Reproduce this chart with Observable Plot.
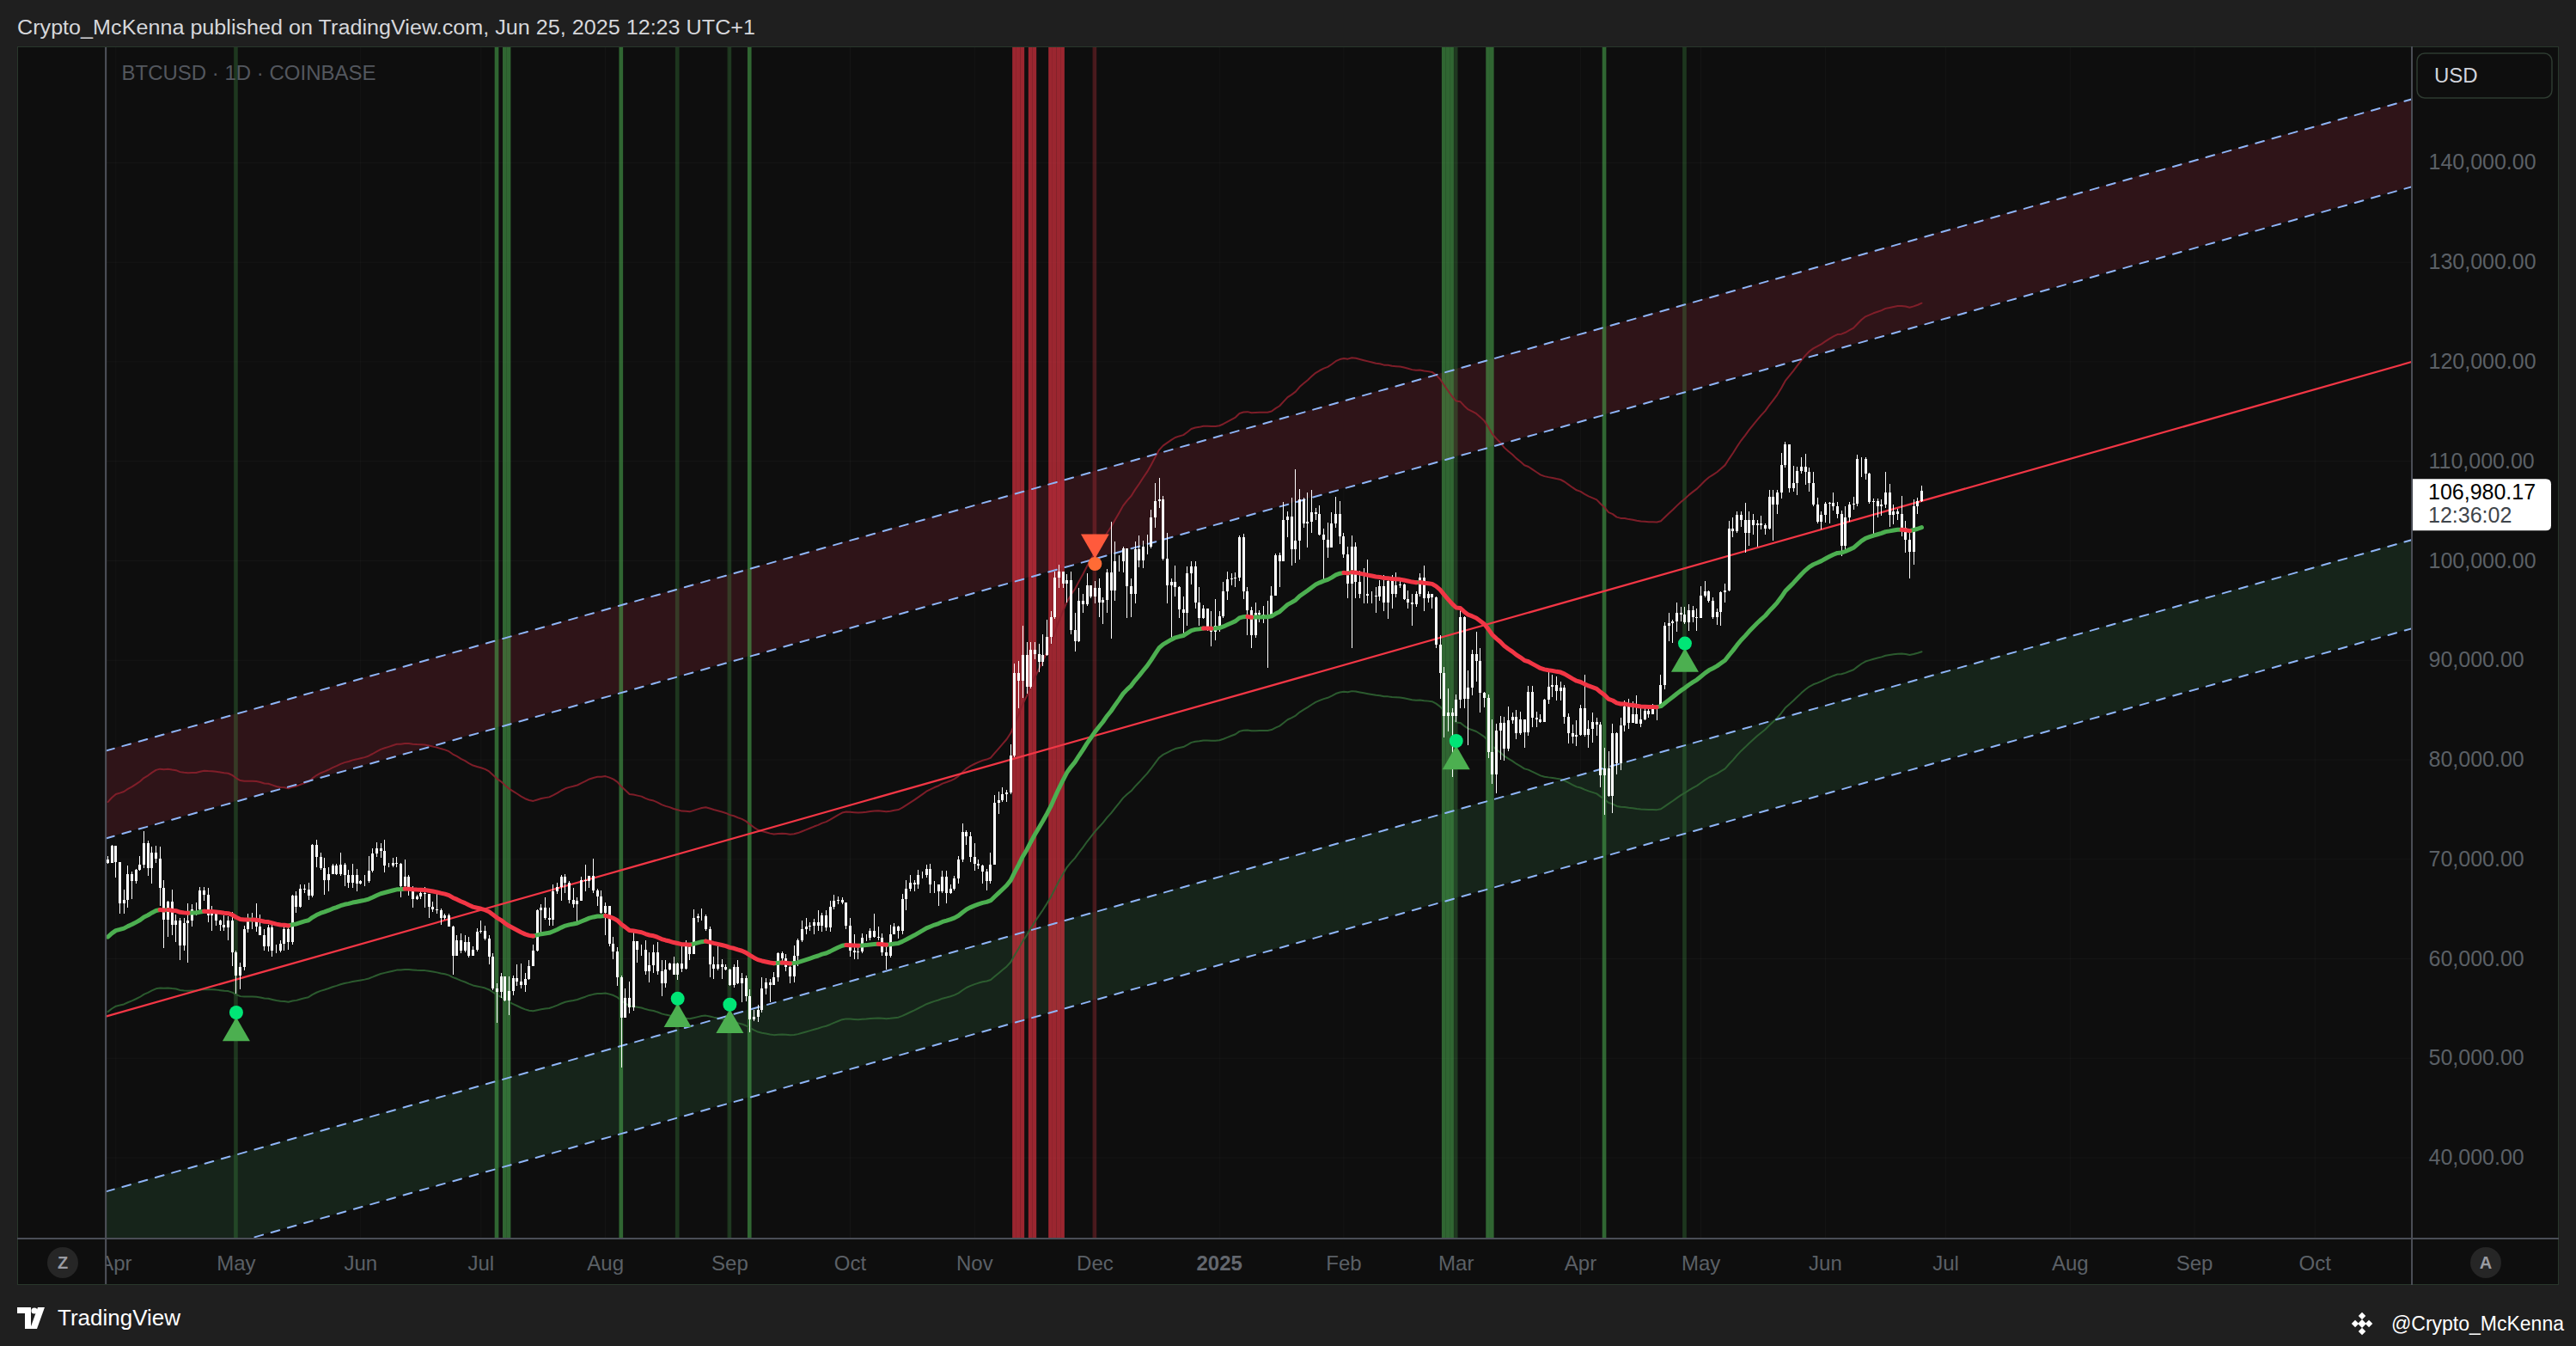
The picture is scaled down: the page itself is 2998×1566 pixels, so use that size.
<!DOCTYPE html>
<html>
<head>
<meta charset="utf-8">
<script src="https://cdn.jsdelivr.net/npm/d3@7"></script>
<script src="https://cdn.jsdelivr.net/npm/@observablehq/plot@0.6"></script>
<style>
html,body{margin:0;padding:0;background:#1f1f1f;width:2998px;height:1566px;overflow:hidden;font-family:"Liberation Sans",Arial,sans-serif;}
#wrap{position:relative;width:2998px;height:1566px;}
#chart{position:absolute;left:20px;top:54px;width:2958px;height:1441px;}
</style>
</head>
<body>
<div id="wrap"><div id="chart"></div></div>
<script>
// ---------- DATA (prices in thousands of USD, daily BTCUSD, Coinbase) ----------
const firstDay = "2024-03-30";
const firstOpen = 69.9;
const closes = [
// Mar 30-31 2024
69.6,71.3,
// Apr
69.7,65.5,65.9,68.5,67.8,68.9,69.4,71.6,69.1,70.6, 70.0,67.1,63.9,65.7,63.4,63.8,61.3,63.5,63.8,64.9, 64.9,66.8,66.4,64.3,64.5,63.8,63.4,63.1,63.8,60.6,
// May
58.3,59.1,62.9,63.9,64.0,63.2,62.3,61.2,63.1,60.8, 60.8,61.5,62.9,61.6,66.3,65.2,67.0,66.9,66.3,71.4, 70.2,69.1,67.9,68.5,69.3,68.5,69.4,68.4,67.6,68.4, 67.5,
// Jun
67.8,67.8,68.8,70.5,71.1,70.8,69.3,69.3,69.6,69.5, 67.3,68.2,66.8,66.0,66.2,66.6,66.5,65.2,64.9,64.8, 64.1,64.3,63.2,60.3,61.8,60.8,61.6,60.3,60.9,62.7,
// Jul
62.8,62.0,60.2,57.0,56.6,58.2,55.8,56.7,58.0,57.7, 57.3,57.9,59.2,60.8,64.8,65.1,64.1,63.9,66.7,67.2, 68.2,67.6,65.9,65.4,65.8,67.9,67.8,68.3,66.8,66.2, 64.6,
// Aug
65.3,61.5,60.7,58.1,54.0,56.0,55.1,61.7,60.9,60.9, 58.7,59.3,60.6,58.7,57.5,58.9,59.5,58.4,59.5,59.0, 61.2,60.4,64.1,64.2,64.2,62.9,59.4,59.0,59.4,59.1, 58.9,
// Sep
57.3,59.1,57.5,58.0,56.2,53.9,54.1,54.8,57.0,57.6, 57.3,58.1,60.5,60.0,59.1,58.2,60.3,61.8,62.9,63.2, 63.3,63.6,63.3,64.3,63.1,65.2,65.8,65.9,65.6,63.3,
// Oct
60.8,60.6,60.7,62.1,62.1,62.8,62.2,62.1,60.6,60.3, 62.4,63.2,62.8,66.0,67.0,67.6,67.4,68.4,68.4,69.0, 67.4,67.4,66.7,68.2,66.6,67.0,68.0,69.9,72.7,72.3, 70.2,
// Nov
69.5,69.3,68.7,67.8,69.4,75.6,75.9,76.5,76.7,80.4, 88.7,87.9,90.5,87.3,91.0,90.6,89.8,90.5,92.3,94.3, 98.3,98.9,97.7,98.0,93.0,91.9,95.9,95.6,97.5,96.4,
// Dec
97.2,95.8,96.0,98.8,97.0,99.9,99.9,101.2,97.4,96.6, 101.1,100.0,101.4,101.4,104.3,106.0,106.1,100.2,97.5,97.8, 97.3,95.1,94.7,98.7,99.4,95.8,94.2,95.2,93.1,92.8, 93.4,
// Jan 2025
94.4,96.9,98.1,98.2,98.3,102.3,96.9,95.0,92.5,94.7, 94.6,94.5,94.5,96.5,100.5,99.9,104.1,104.4,101.1,102.0, 106.1,103.7,103.9,104.8,104.7,102.6,102.1,101.3,103.7,104.7, 102.4,
// Feb
100.6,97.7,101.4,97.8,96.6,96.6,96.5,96.5,96.4,97.4, 95.8,97.9,96.6,97.5,97.6,96.1,95.8,95.6,96.6,98.3, 96.2,96.6,96.3,91.5,88.7,84.4,84.7,84.4,
// Mar
86.0,94.3,86.1,87.2,90.6,89.9,86.7,86.2,80.7,78.5, 82.9,83.7,81.1,83.9,84.3,82.6,84.0,82.7,86.8,84.2, 84.0,83.8,86.0,87.3,87.5,86.9,87.2,84.3,82.6,82.3, 82.5,
// Apr
85.1,82.5,83.1,83.8,83.5,78.4,79.1,76.3,82.6,79.6, 83.4,85.3,83.7,84.5,83.6,84.0,84.9,84.5,85.1,85.2, 87.5,93.4,93.7,93.9,94.7,94.6,93.8,95.0,94.3,94.2,
// May
96.5,96.9,95.9,94.3,94.8,96.8,97.0,103.2,102.9,104.6, 104.1,102.8,104.1,103.5,103.7,103.5,103.2,106.4,105.6,106.8, 109.6,111.7,107.3,107.8,109.0,109.4,108.9,107.8,105.6,103.9, 104.6,
// Jun 1-25
105.7,105.8,105.4,104.7,101.5,104.3,105.6,105.7,110.2,110.2, 108.7,105.9,106.0,105.4,105.6,106.8,104.6,104.9,104.7,103.3, 102.1,100.9,105.4,106.0,106.98
];
const highs = [
70.3,71.4,
71.3,69.7,66.9,69.3,68.7,69.0,70.3,72.8,71.8,71.2, 71.3,71.2,67.9,65.8,66.9,64.4,64.1,64.1,65.5,65.4, 65.6,67.2,67.2,67.1,65.3,64.8,63.9,64.3,64.2,64.7,
60.8,59.6,63.3,64.5,64.6,65.5,64.4,62.9,63.4,63.5, 61.4,61.8,63.4,63.1,66.4,66.7,67.4,67.4,67.6,71.5, 71.9,70.6,70.1,69.2,69.5,69.5,70.6,69.6,68.9,69.5, 69.0,
67.9,68.4,70.3,71.1,71.7,71.6,71.9,69.6,70.1,70.2, 69.6,69.9,68.4,67.3,66.4,66.9,67.2,66.5,65.7,66.5, 65.0,64.5,64.5,63.3,62.3,62.5,62.3,62.2,61.2,63.0,
63.8,63.3,62.3,60.5,57.5,58.5,58.2,58.2,58.3,59.4, 59.5,58.5,59.8,61.4,64.9,65.4,66.1,65.1,67.4,67.6, 68.4,68.5,67.8,67.1,66.1,68.2,69.4,68.3,70.0,67.0, 66.8,
65.6,65.0,62.2,61.1,58.3,57.0,57.7,62.7,61.7,61.4, 61.8,60.6,61.4,61.6,59.8,59.8,59.6,60.2,59.6,61.4, 61.8,61.4,64.9,64.5,65.0,64.4,63.2,60.2,61.2,59.9, 59.4,
59.0,59.4,59.8,58.5,58.3,56.9,54.8,55.3,58.1,58.0, 57.9,58.6,60.6,60.7,60.4,59.2,61.3,62.0,63.8,64.1, 63.6,64.0,64.8,64.6,64.8,65.8,66.4,66.2,66.1,65.6,
64.1,62.4,61.5,62.5,62.4,63.0,64.5,63.2,62.5,61.3, 63.4,63.5,63.3,66.5,67.9,68.4,67.9,68.9,68.7,69.4, 69.5,67.8,67.4,68.8,68.8,67.4,68.3,70.3,73.6,72.9, 72.7,
71.6,69.9,69.4,69.0,70.6,76.4,76.8,77.2,76.9,81.5, 89.6,89.9,93.4,91.8,91.8,91.8,91.6,92.6,94.0,94.9, 98.9,99.6,98.8,98.6,98.9,94.7,97.2,96.6,98.7,97.5,
97.9,98.2,96.3,99.1,103.9,101.9,100.5,101.4,101.2,98.2, 101.9,102.5,102.0,102.6,105.1,107.8,108.3,106.5,102.8,98.2, 99.5,97.4,96.4,99.4,99.9,99.9,97.3,95.5,95.2,94.9, 96.1,
94.9,97.8,98.9,98.7,98.8,102.5,102.7,97.3,95.3,95.8, 95.0,95.4,95.9,97.4,100.7,100.8,105.9,104.9,106.3,109.2, 107.2,106.3,106.8,107.1,105.3,105.5,103.2,103.8,104.8,106.4, 106.0,
102.8,101.4,102.5,101.8,99.0,99.2,100.1,96.9,97.3,98.0, 98.5,98.1,98.5,98.8,97.9,97.7,97.0,96.6,96.9,98.7, 99.5,96.9,96.5,96.4,92.5,89.3,87.1,85.1,
86.5,95.0,94.4,88.9,91.0,92.8,91.2,86.8,86.5,84.0, 83.6,84.4,84.3,85.3,84.7,85.0,84.8,84.0,87.4,87.4, 84.8,84.5,86.1,88.8,88.5,88.3,87.8,87.5,84.6,83.5, 83.9,
85.5,88.5,83.9,84.7,84.2,83.8,81.2,80.8,83.6,82.7, 84.2,85.9,86.1,85.8,86.4,85.5,85.5,85.1,85.6,85.3, 88.5,93.8,94.7,94.0,95.8,95.3,95.3,95.6,95.4,95.2,
97.4,97.9,97.0,96.3,95.2,96.9,97.7,104.0,104.3,104.9, 104.9,105.8,104.9,104.7,104.1,104.5,103.7,107.1,107.1,107.1, 110.8,111.9,111.3,109.5,109.4,110.4,110.7,109.3,108.9,106.3, 104.9,
105.9,105.9,106.8,105.9,105.0,105.4,105.9,106.4,110.6,110.4, 110.4,108.8,106.2,106.2,106.1,108.9,107.7,105.6,105.2,106.5, 104.0,103.0,106.1,106.3,107.5
];
const lows = [
69.5,69.6,
68.1,64.5,64.5,65.1,66.0,67.5,68.8,69.1,68.3,67.5, 69.6,65.3,61.0,62.2,62.3,61.6,59.8,60.8,59.6,63.2, 64.3,64.5,65.8,63.6,62.8,63.3,62.8,62.8,61.8,59.2,
56.5,56.9,58.8,62.6,62.9,62.7,62.3,60.8,60.7,60.2, 60.5,60.6,60.8,60.9,61.4,64.6,65.1,66.6,65.9,66.1, 69.2,68.9,66.4,66.7,68.5,68.4,68.3,67.3,67.1,67.1, 66.7,
67.4,67.3,67.6,68.6,70.2,70.1,68.6,69.2,69.2,69.2, 66.1,66.9,66.3,65.1,65.9,66.0,65.1,64.1,64.7,64.5, 63.4,63.9,63.2,58.4,60.3,60.5,60.6,60.1,60.4,60.7,
62.5,61.8,59.4,56.8,53.5,56.0,55.7,54.3,56.3,57.2, 57.0,56.6,57.8,59.2,60.7,62.4,63.9,63.3,63.3,66.5, 65.8,66.6,65.5,65.1,63.5,65.8,66.7,67.1,66.6,65.3, 64.5,
62.3,61.2,59.9,57.2,49.0,54.0,54.5,54.7,59.6,60.3, 58.4,57.6,58.5,58.4,56.2,57.1,58.8,58.4,57.8,58.6, 58.9,59.8,60.4,63.6,63.8,62.8,58.1,57.9,58.8,57.9, 58.8,
57.2,57.1,57.4,55.6,55.7,52.6,53.7,53.6,54.6,56.4, 55.6,57.3,57.7,59.5,58.7,57.5,57.6,59.2,61.6,62.4, 62.8,62.4,62.8,62.7,62.8,62.7,64.9,65.4,65.4,62.9,
60.2,59.9,59.9,60.5,61.7,61.8,62.1,61.8,60.3,58.9, 60.1,62.4,62.0,62.4,64.8,66.7,66.7,67.0,68.0,68.1, 66.6,66.6,65.3,66.6,65.5,66.5,66.8,67.5,69.7,71.4, 69.7,
68.8,69.0,67.5,66.8,67.5,69.4,74.5,75.7,75.7,76.5, 80.2,85.1,86.2,86.6,87.1,90.1,88.8,89.4,90.4,91.6, 94.1,97.2,97.2,95.8,92.6,90.8,91.8,94.7,95.4,96.2,
95.7,94.3,93.6,94.7,92.1,95.9,98.9,98.8,94.2,94.3, 95.7,99.3,99.2,100.6,101.2,103.3,105.3,100.0,95.7,92.2, 96.4,94.2,92.4,93.4,97.6,95.2,93.4,94.1,92.9,91.4, 92.0,
92.8,94.2,96.0,97.5,97.3,97.9,96.1,92.5,91.2,92.2, 93.8,93.7,89.2,94.3,96.5,97.3,100.0,102.3,99.5,99.7, 100.1,103.3,101.3,102.8,104.1,102.5,97.8,100.3,101.3,103.3, 101.6,
100.3,96.2,91.2,96.2,96.2,95.7,95.7,95.7,94.7,95.9, 94.9,94.1,95.2,96.3,97.2,96.0,95.2,93.4,95.3,96.4, 94.9,95.8,95.2,91.2,86.1,82.2,82.8,78.2,
83.8,85.1,85.1,81.4,86.4,87.8,84.7,85.2,80.1,77.5, 76.6,80.0,79.9,80.8,83.6,82.0,82.5,81.2,82.4,83.2, 83.2,83.7,83.8,85.6,86.3,85.9,85.9,83.6,81.6,81.6, 81.3,
82.4,82.3,81.2,81.7,82.4,77.2,74.4,76.2,74.6,78.5, 78.9,82.8,83.1,83.8,83.6,83.2,83.9,84.2,84.5,83.9, 85.1,87.0,91.9,91.7,92.8,93.9,93.6,92.9,93.8,92.9,
94.2,96.3,95.8,94.1,93.5,93.4,95.8,96.9,102.3,102.8, 103.4,100.8,101.5,102.6,101.4,103.1,102.6,103.1,102.0,104.7, 106.2,109.3,106.8,106.9,106.6,108.7,107.6,106.9,105.4,103.7, 103.1,
103.8,103.7,105.0,104.2,100.4,101.1,103.9,105.1,105.4,108.4, 108.1,105.7,102.7,104.3,104.5,105.3,103.4,103.6,104.1,102.4, 100.8,98.2,99.6,104.7,105.9
];

// moving-average indicator settings
const emaLength = 50;
const emaSeed = 61.9;
const upperEnvelopeRatio = 1.218;
const lowerEnvelopeRatio = 0.879;

// parallel channel (endpoints)
const channelDates = ["2024-03-29T12:00:00Z", "2025-10-26T00:00:00Z"];
const channelTopOuter = [80.9, 146.5];
const channelTopInner = [72.1, 137.7];
const channelCenter = [54.2, 120.1];
const channelBottomInner = [36.6, 102.2];
const channelBottomOuter = [27.8, 93.3];

// highlighted days
const strongBuyDays = ["2024-07-05","2024-07-07","2024-07-08","2024-08-05","2024-09-06","2025-02-26","2025-02-27","2025-02-28","2025-03-09","2025-03-10","2025-04-07"];
const weakBuyDays = ["2024-05-01","2024-08-19","2024-09-01","2025-03-01","2025-04-27"];
const strongSellDays = ["2024-11-11","2024-11-12","2024-11-13","2024-11-15","2024-11-16","2024-11-20","2024-11-21","2024-11-22","2024-11-23"];
const weakSellDays = ["2024-12-01"];

// signal markers
const buySignalDays = ["2024-05-01","2024-08-19","2024-09-01","2025-03-01","2025-04-27"];
const buySignalLevels = [54.6, 56.0, 55.4, 81.9, 91.7];
const sellSignalDays = ["2024-12-01"];
const sellSignalLevels = [99.7];

// axes
const priceTicks = [40,50,60,70,80,90,100,110,120,130,140];
const monthDates = ["2024-04-01","2024-05-01","2024-06-01","2024-07-01","2024-08-01","2024-09-01","2024-10-01","2024-11-01","2024-12-01","2025-01-01","2025-02-01","2025-03-01","2025-04-01","2025-05-01","2025-06-01","2025-07-01","2025-08-01","2025-09-01","2025-10-01"];
const monthLabels = ["Apr","May","Jun","Jul","Aug","Sep","Oct","Nov","Dec","2025","Feb","Mar","Apr","May","Jun","Jul","Aug","Sep","Oct"];
const xDomain = ["2024-03-07T12:29:00Z", "2025-10-25T06:14:00Z"];
const yDomain = [31.836, 151.663];

const headerText = "Crypto_McKenna published on TradingView.com, Jun 25, 2025 12:23 UTC+1";
const symbolText = "BTCUSD · 1D · COINBASE";
const lastPriceText = "106,980.17";
const countdownText = "12:36:02";
const currencyText = "USD";
const authorText = "@Crypto_McKenna";

// ---------- BUILD ----------
const T0 = new Date(firstDay);
const candles = closes.map((c, i) => ({
  date: d3.utcDay.offset(T0, i),
  open: i === 0 ? firstOpen : closes[i - 1],
  close: c, high: highs[i], low: lows[i]
}));
let e = emaSeed;
const alpha = 2 / (emaLength + 1);
candles.forEach(d => { e = e + (d.close - e) * alpha; d.ema = e; });

const emaRows = [];
let seg = 0, prevCol = null;
candles.forEach((d, i) => {
  const col = d.close >= d.ema ? "up" : "down";
  if (i === 0) { prevCol = col; emaRows.push({date: d.date, v: d.ema, seg, col}); return; }
  if (col !== prevCol) { seg++; emaRows.push({date: candles[i-1].date, v: candles[i-1].ema, seg, col}); prevCol = col; }
  emaRows.push({date: d.date, v: d.ema, seg, col});
});

const chRows = channelDates.map((d, i) => ({
  date: new Date(d), to: channelTopOuter[i], ti: channelTopInner[i], c: channelCenter[i],
  bi: channelBottomInner[i], bo: channelBottomOuter[i]
}));
const dayRect = list => list.map(s => ({x1: new Date(new Date(s).getTime() - 12*3600e3), x2: new Date(new Date(s).getTime() + 12*3600e3)}));
const buySig = buySignalDays.map((d, i) => ({date: new Date(d), v: buySignalLevels[i]}));
const sellSig = sellSignalDays.map((d, i) => ({date: new Date(d), v: sellSignalLevels[i]}));
const months = monthDates.map((d, i) => ({date: new Date(d), label: monthLabels[i]}));
const xd = xDomain.map(d => new Date(d));
const grayDate = new Date(channelDates[0]);
const fmtPrice = d3.format(",.2f");
const yLo = yDomain[0], yHi = yDomain[1];

const downTriangle = {
  draw(context, size) {
    const y = -Math.sqrt(size / (Math.sqrt(3) * 3));
    context.moveTo(0, -y * 2);
    context.lineTo(-Math.sqrt(3) * y, y);
    context.lineTo(Math.sqrt(3) * y, y);
    context.closePath();
  }
};

const GREEN = "#4caf50", RED = "#f23645", BG = "#0e0e0e";
const AXIS_TEXT = "#5b6066";

const chart = Plot.plot({
  width: 2958, height: 1441,
  marginLeft: 0, marginRight: 171, marginTop: 0, marginBottom: 54,
  style: {background: BG, fontFamily: "'Liberation Sans', Arial, sans-serif", maxWidth: "none", overflow: "visible"},
  x: {type: "utc", domain: xd, axis: null},
  y: {domain: yDomain, axis: null},
  marks: [
    // faint grid
    Plot.ruleY(priceTicks, {y: d => d, stroke: "#ffffff", strokeOpacity: 0.03}),
    Plot.ruleX(months, {x: "date", stroke: "#ffffff", strokeOpacity: 0.03}),
    // channel bands
    Plot.areaY(chRows, {x: "date", y1: "ti", y2: "to", fill: "#2f1418", clip: true}),
    Plot.areaY(chRows, {x: "date", y1: "bo", y2: "bi", fill: "#16241a", clip: true}),
    // highlighted days
    Plot.rect(dayRect(weakBuyDays), {x1: "x1", x2: "x2", y1: () => yLo, y2: () => yHi, fill: GREEN, fillOpacity: 0.25}),
    Plot.rect(dayRect(strongBuyDays), {x1: "x1", x2: "x2", y1: () => yLo, y2: () => yHi, fill: GREEN, fillOpacity: 0.55}),
    Plot.rect(dayRect(weakSellDays), {x1: "x1", x2: "x2", y1: () => yLo, y2: () => yHi, fill: RED, fillOpacity: 0.25}),
    Plot.rect(dayRect(strongSellDays), {x1: "x1", x2: "x2", y1: () => yLo, y2: () => yHi, fill: RED, fillOpacity: 0.62}),
    // envelopes
    Plot.line(candles, {x: "date", y: d => d.ema * upperEnvelopeRatio, stroke: "#8a1f2b", strokeWidth: 2, strokeOpacity: 0.9}),
    Plot.line(candles, {x: "date", y: d => d.ema * lowerEnvelopeRatio, stroke: "#2f6332", strokeWidth: 2, strokeOpacity: 0.9}),
    // channel lines
    Plot.line(chRows, {x: "date", y: "to", stroke: "#8fb5f7", strokeWidth: 2, strokeDasharray: "10 10", clip: true}),
    Plot.line(chRows, {x: "date", y: "ti", stroke: "#8fb5f7", strokeWidth: 2, strokeDasharray: "10 10", clip: true}),
    Plot.line(chRows, {x: "date", y: "bi", stroke: "#8fb5f7", strokeWidth: 2, strokeDasharray: "10 10", clip: true}),
    Plot.line(chRows, {x: "date", y: "bo", stroke: "#8fb5f7", strokeWidth: 2, strokeDasharray: "10 10", clip: true}),
    Plot.line(chRows, {x: "date", y: "c", stroke: RED, strokeWidth: 2.2, clip: true}),
    // candles
    Plot.ruleX(candles, {x: "date", y1: d => Math.min(d.low, d.open, d.close), y2: d => Math.max(d.high, d.open, d.close), stroke: "#ffffff", strokeWidth: 1, shapeRendering: "crispEdges"}),
    Plot.ruleX(candles, {x: "date", y1: "open", y2: "close", stroke: "#ffffff", strokeWidth: 3, shapeRendering: "crispEdges"}),
    // EMA colored by price position
    Plot.line(emaRows.filter(d => d.col === "up"), {x: "date", y: "v", z: "seg", stroke: GREEN, strokeWidth: 5, strokeLinecap: "round"}),
    Plot.line(emaRows.filter(d => d.col === "down"), {x: "date", y: "v", z: "seg", stroke: RED, strokeWidth: 5, strokeLinecap: "round"}),
    // signals
    Plot.dot(buySig, {x: "date", y: "v", symbol: "triangle", r: 11.9, fill: GREEN, dy: 24}),
    Plot.dot(buySig, {x: "date", y: "v", r: 8, fill: "#00e676"}),
    Plot.dot(sellSig, {x: "date", y: "v", symbol: downTriangle, r: 12.2, fill: "#ff5a3c", dy: -25}),
    Plot.dot(sellSig, {x: "date", y: "v", r: 8, fill: "#ff6b35"}),
    // price axis labels
    Plot.text(priceTicks, {y: d => d, text: d => fmtPrice(d * 1000), frameAnchor: "right", dx: 19, textAnchor: "start", lineAnchor: "middle", fill: AXIS_TEXT, fontSize: 25}),
    // time axis labels
    Plot.text(months.filter(d => d.label !== "2025"), {x: "date", text: "label", frameAnchor: "bottom", lineAnchor: "middle", dy: 29, fill: AXIS_TEXT, fontSize: 24}),
    Plot.text(months.filter(d => d.label === "2025"), {x: "date", text: "label", frameAnchor: "bottom", lineAnchor: "middle", dy: 29, fill: "#63676e", fontSize: 24, fontWeight: "bold"}),
    // left cover + start line
    Plot.rect([0], {x1: () => xd[0], x2: () => grayDate, y1: () => yLo, y2: () => yHi, insetBottom: -54, fill: BG}),
    Plot.ruleX([grayDate], {x: d => d, stroke: "#50535c", strokeWidth: 2, insetBottom: -54}),
    // symbol label
    Plot.text([symbolText], {text: d => d, frameAnchor: "top-left", lineAnchor: "middle", dx: 121, dy: 31, fill: "#53575e", fontSize: 24, textAnchor: "start"})
  ]
});
document.getElementById("chart").appendChild(chart);

// ---------- CHROME OVERLAY ----------
const ov = d3.select("#wrap").append("svg")
  .attr("width", 2998).attr("height", 1566)
  .style("position", "absolute").style("left", "0px").style("top", "0px")
  .style("font-family", "'Liberation Sans', Arial, sans-serif");

ov.append("text").attr("x", 20).attr("y", 40).attr("font-size", 23).attr("fill", "#d6d7db")
  .attr("textLength", 859).attr("lengthAdjust", "spacingAndGlyphs").text(headerText);

ov.append("rect").attr("x", 20.5).attr("y", 54.5).attr("width", 2957).attr("height", 1440)
  .attr("fill", "none").attr("stroke", "#29372b").attr("stroke-width", 1);
ov.append("line").attr("x1", 2807).attr("x2", 2807).attr("y1", 54).attr("y2", 1495).attr("stroke", "#4a4d56").attr("stroke-width", 2);
ov.append("line").attr("x1", 20).attr("x2", 2978).attr("y1", 1441).attr("y2", 1441).attr("stroke", "#4a4d56").attr("stroke-width", 2);

// USD box
ov.append("rect").attr("x", 2813).attr("y", 62).attr("width", 157).attr("height", 52).attr("rx", 9)
  .attr("fill", "#0e0e0e").attr("stroke", "#2e3b31").attr("stroke-width", 1.5);
ov.append("text").attr("x", 2833).attr("y", 96).attr("font-size", 24).attr("fill", "#d1d4dc").text(currencyText);

// last price label
const yScale = chart.scale("y");
const yLast = 54 + yScale.apply(closes[closes.length - 1]);
ov.append("path").attr("fill", "#ffffff")
  .attr("d", `M2808 ${yLast - 14} H2963 Q2969 ${yLast - 14} 2969 ${yLast - 8} V${yLast + 40} Q2969 ${yLast + 46} 2963 ${yLast + 46} H2808 Z`);
ov.append("text").attr("x", 2826).attr("y", yLast + 10).attr("font-size", 25).attr("fill", "#000000").text(lastPriceText);
ov.append("text").attr("x", 2826).attr("y", yLast + 37).attr("font-size", 25).attr("fill", "#3f454b").text(countdownText);

// Z / A buttons
[[73, "Z"], [2893, "A"]].forEach(([cx, t]) => {
  ov.append("circle").attr("cx", cx).attr("cy", 1469).attr("r", 18).attr("fill", "#262626");
  ov.append("text").attr("x", cx).attr("y", 1476).attr("text-anchor", "middle").attr("font-size", 20)
    .attr("font-weight", "bold").attr("fill", "#9a9ca3").text(t);
});

// footer: TradingView logo + text
const logo = ov.append("g").attr("fill", "#ffffff");
logo.append("path").attr("d", "M20 1521 H36 V1546 H29 V1528 H20 Z");
logo.append("circle").attr("cx", 40).attr("cy", 1525).attr("r", 3.6);
logo.append("path").attr("d", "M44 1521 H52 L43 1546 H35 Z");
ov.append("text").attr("x", 67).attr("y", 1542).attr("font-size", 26).attr("fill", "#ffffff").text("TradingView");

// footer: author
const icon = ov.append("g").attr("fill", "#ffffff").attr("transform", "translate(2749,1540)");
[[0,-9],[-8,0],[8,0],[0,9],[0,0]].forEach(([dx, dy], i) => {
  icon.append("rect").attr("x", dx - (i === 4 ? 3.5 : 3)).attr("y", dy - (i === 4 ? 3.5 : 3))
    .attr("width", i === 4 ? 7 : 6).attr("height", i === 4 ? 7 : 6)
    .attr("transform", `rotate(45 ${dx} ${dy})`);
});
ov.append("text").attr("x", 2984).attr("y", 1548).attr("text-anchor", "end").attr("font-size", 23).attr("fill", "#ffffff").text(authorText);

if (closes.length !== highs.length || closes.length !== lows.length || closes.length !== 453) {
  ov.append("text").attr("x", 1200).attr("y", 40).attr("font-size", 20).attr("fill", "yellow")
    .text(`len ${closes.length} ${highs.length} ${lows.length}`);
}
</script>
</body>
</html>
